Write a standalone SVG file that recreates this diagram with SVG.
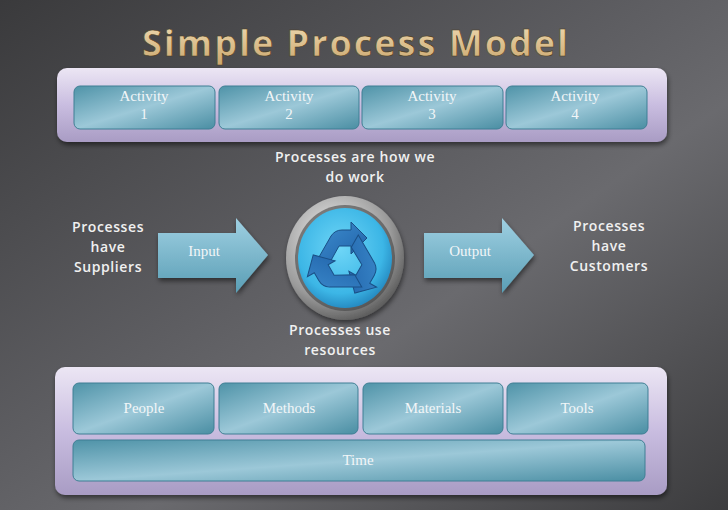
<svg xmlns="http://www.w3.org/2000/svg" width="728" height="510" viewBox="0 0 728 510">
<defs>
<linearGradient id="bg" x1="0" y1="0" x2="1" y2="1">
<stop offset="0" stop-color="#3a3a3c"/><stop offset="0.45" stop-color="#5e5e62"/><stop offset="0.6" stop-color="#6a6a6e"/><stop offset="1" stop-color="#3c3c3e"/>
</linearGradient>
<linearGradient id="panel" x1="0" y1="0" x2="0" y2="1">
<stop offset="0" stop-color="#ece6f4"/><stop offset="0.5" stop-color="#c9bde0"/><stop offset="1" stop-color="#a99cc4"/>
</linearGradient>
<linearGradient id="box" x1="0" y1="0" x2="1" y2="1">
<stop offset="0" stop-color="#4f93a8"/><stop offset="0.5" stop-color="#9cc8d8"/><stop offset="1" stop-color="#4a8ea3"/>
</linearGradient>
<linearGradient id="arrow" x1="0" y1="0" x2="0" y2="1">
<stop offset="0" stop-color="#9fd0e2"/><stop offset="1" stop-color="#5a9eb5"/>
</linearGradient>
<linearGradient id="title" x1="0" y1="0" x2="0" y2="1">
<stop offset="0" stop-color="#f2dfb8"/><stop offset="1" stop-color="#c9a46a"/>
</linearGradient>
<radialGradient id="ring" cx="0.4" cy="0.35" r="0.7">
<stop offset="0" stop-color="#f4f4f4"/><stop offset="0.7" stop-color="#9a9a9a"/><stop offset="1" stop-color="#555"/>
</radialGradient>
<radialGradient id="ball" cx="0.45" cy="0.4" r="0.65">
<stop offset="0" stop-color="#6fd6f7"/><stop offset="0.7" stop-color="#3cb6e6"/><stop offset="1" stop-color="#1f7fb8"/>
</radialGradient>
<linearGradient id="rcg" x1="0" y1="0" x2="1" y2="1">
<stop offset="0" stop-color="#3f8fd0"/><stop offset="1" stop-color="#1e5fa6"/>
</linearGradient>
<filter id="sh" x="-10%" y="-10%" width="120%" height="130%"><feDropShadow dx="1" dy="3" stdDeviation="2.5" flood-color="#000" flood-opacity="0.5"/></filter>
<path id="seg" d="M-30,2 L-14,-26 Q-10,-32 -3,-32 L6,-32 L6,-40 L22,-24 L6,-8 L6,-16 L-6,-16 L-16,2 Z"/>
<style>
.bx{fill:url(#box);stroke:#3f7f94;stroke-width:1}
.pn{fill:url(#panel);filter:url(#sh)}
.st{font-family:"Liberation Serif",serif;font-size:15px;fill:#f2f6f8;text-anchor:middle}
.sl{font-family:"Open Sans","DejaVu Sans",sans-serif;font-weight:600;font-size:14px;fill:#f0f0f0;text-anchor:middle;letter-spacing:0.6px}
.ar{fill:url(#arrow);filter:url(#sh)}
.rc{fill:url(#rcg);stroke:#1a4f86;stroke-width:1}
</style>
</defs>
<rect width="728" height="510" fill="url(#bg)"/>
<text x="356" y="56" font-family="'Open Sans','DejaVu Sans',sans-serif" font-size="36" font-weight="bold" letter-spacing="2" fill="url(#title)" stroke="#4a3a20" stroke-width="0.6" text-anchor="middle">Simple Process Model</text>

<g id="panel-activities">
<rect class="pn" x="57" y="68" width="610" height="74" rx="10"/>
</g>
<g id="activity1"><rect class="bx" x="74" y="86" width="141" height="43" rx="6"/><text class="st" x="144" y="101">Activity</text><text class="st" x="144" y="119">1</text></g>
<g id="activity2"><rect class="bx" x="219" y="86" width="140" height="43" rx="6"/><text class="st" x="289" y="101">Activity</text><text class="st" x="289" y="119">2</text></g>
<g id="activity3"><rect class="bx" x="362" y="86" width="141" height="43" rx="6"/><text class="st" x="432" y="101">Activity</text><text class="st" x="432" y="119">3</text></g>
<g id="activity4"><rect class="bx" x="506" y="86" width="141" height="43" rx="6"/><text class="st" x="575" y="101">Activity</text><text class="st" x="575" y="119">4</text></g>

<g id="label-work"><text class="sl" x="355" y="162">Processes are how we</text><text class="sl" x="355" y="182">do work</text></g>
<g id="label-suppliers"><text class="sl" x="108" y="232">Processes</text><text class="sl" x="108" y="252">have</text><text class="sl" x="108" y="272">Suppliers</text></g>
<g id="label-customers"><text class="sl" x="609" y="231">Processes</text><text class="sl" x="609" y="251">have</text><text class="sl" x="609" y="271">Customers</text></g>
<g id="label-resources"><text class="sl" x="340" y="335">Processes use</text><text class="sl" x="340" y="355">resources</text></g>

<g id="connectors">
<path class="ar" d="M158 233 H236 V218 L268 255 L236 293 V278 H158 Z"/>
<text class="st" x="204" y="256">Input</text>
<path class="ar" d="M424 233 H502 V218 L534 255 L502 293 V278 H424 Z"/>
<text class="st" x="470" y="256">Output</text>
</g>

<g id="process">
<ellipse cx="345" cy="258" rx="59" ry="62" fill="url(#ring)" filter="url(#sh)"/>
<ellipse cx="345" cy="258" rx="50" ry="53" fill="#444" opacity="0.6"/>
<ellipse cx="345" cy="258" rx="47" ry="50" fill="url(#ball)"/>
<use href="#seg" class="rc" transform="translate(345 262) rotate(0)"/>
<use href="#seg" class="rc" transform="translate(345 262) rotate(120)"/>
<use href="#seg" class="rc" transform="translate(345 262) rotate(240)"/>
</g>

<g id="panel-resources">
<rect class="pn" x="55" y="367" width="612" height="128" rx="10"/>
</g>
<g id="people"><rect class="bx" x="73" y="383" width="141" height="51" rx="6"/><text class="st" x="144" y="413">People</text></g>
<g id="methods"><rect class="bx" x="219" y="383" width="139" height="51" rx="6"/><text class="st" x="289" y="413">Methods</text></g>
<g id="materials"><rect class="bx" x="363" y="383" width="140" height="51" rx="6"/><text class="st" x="433" y="413">Materials</text></g>
<g id="tools"><rect class="bx" x="507" y="383" width="141" height="51" rx="6"/><text class="st" x="577" y="413">Tools</text></g>
<g id="time"><rect class="bx" x="73" y="440" width="572" height="41" rx="6"/><text class="st" x="358" y="465">Time</text></g>
</svg>
